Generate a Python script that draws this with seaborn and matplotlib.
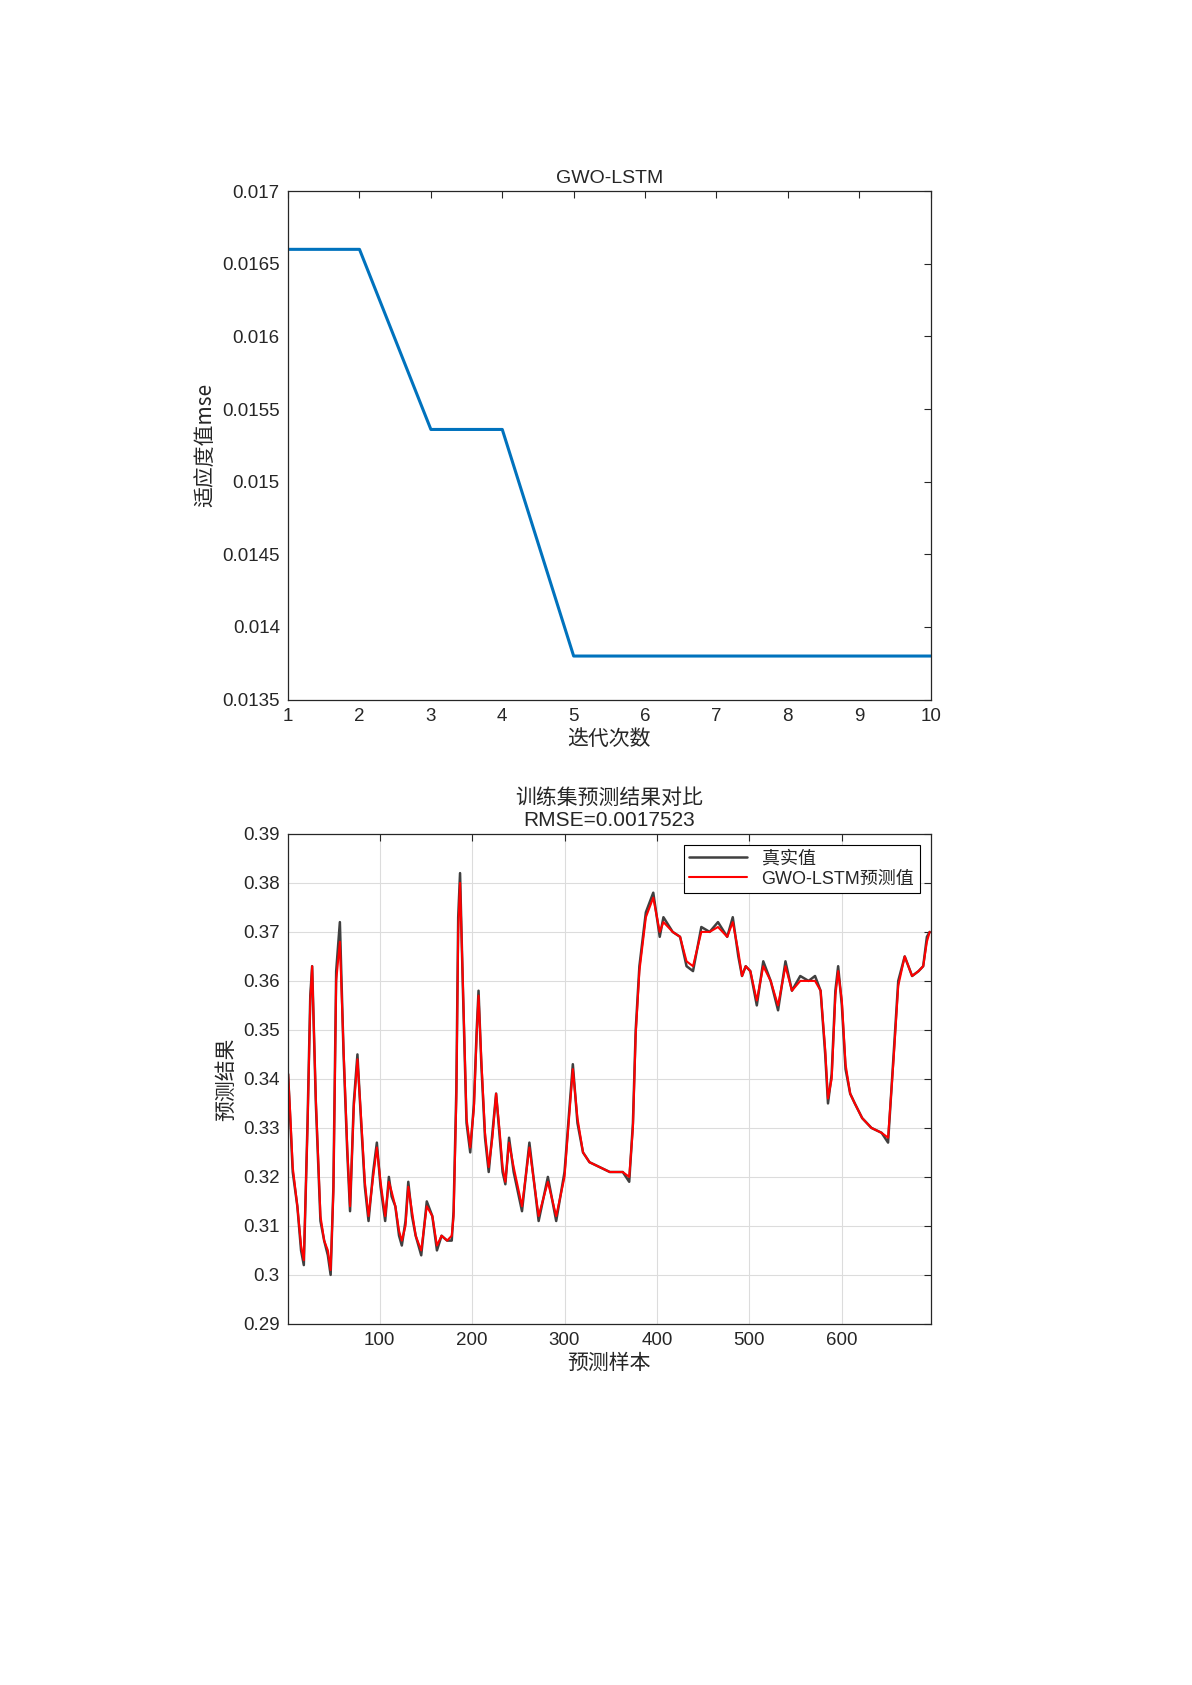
import numpy as np
import pandas as pd
import matplotlib
matplotlib.use("Agg")
import matplotlib.pyplot as plt
from matplotlib import font_manager
import seaborn as sns

# ---- data ----
iters = [1, 2, 3, 4, 5, 6, 7, 8, 9, 10]
fitness = [0.01660, 0.01660, 0.01536, 0.01536, 0.01380, 0.01380, 0.01380, 0.01380, 0.01380, 0.01380]

sample_x = [1, 3, 6, 11, 15, 18, 22, 25, 27, 31, 36, 40, 44, 47, 50, 53, 57, 61, 65, 68,
            72, 76, 80, 84, 88, 93, 97, 101, 106, 110, 113, 117, 121, 124, 128, 131, 135, 139, 145, 151,
            157, 162, 167, 173, 178, 180, 183, 185, 187, 190, 194, 198, 202, 205, 207, 210, 214, 218, 222, 226,
            230, 233, 236, 240, 245, 254, 262, 272, 282, 291, 300, 309, 314, 320, 327, 338, 349, 363, 370, 374,
            377, 381, 388, 396, 403, 407, 417, 425, 432, 439, 448, 457, 466, 476, 482, 488, 492, 496, 501, 508,
            515, 523, 531, 539, 546, 555, 564, 571, 577, 582, 585, 589, 593, 596, 600, 604, 609, 614, 622, 632,
            643, 650, 656, 661, 668, 676, 683, 688, 692, 695]
true_vals = [0.341, 0.333, 0.321, 0.314, 0.305, 0.302, 0.331, 0.357, 0.363, 0.335, 0.311, 0.307, 0.304, 0.300, 0.318, 0.362, 0.372, 0.345, 0.325, 0.313,
             0.335, 0.345, 0.331, 0.318, 0.311, 0.321, 0.327, 0.318, 0.311, 0.320, 0.316, 0.314, 0.308, 0.306, 0.311, 0.319, 0.312, 0.308, 0.304, 0.315,
             0.312, 0.305, 0.308, 0.307, 0.307, 0.313, 0.338, 0.373, 0.382, 0.359, 0.331, 0.325, 0.335, 0.350, 0.358, 0.343, 0.328, 0.321, 0.329, 0.337,
             0.328, 0.321, 0.3185, 0.328, 0.321, 0.313, 0.327, 0.311, 0.320, 0.311, 0.321, 0.343, 0.331, 0.325, 0.323, 0.322, 0.321, 0.321, 0.319, 0.331,
             0.350, 0.363, 0.374, 0.378, 0.369, 0.373, 0.370, 0.369, 0.363, 0.362, 0.371, 0.370, 0.372, 0.369, 0.373, 0.365, 0.361, 0.363, 0.362, 0.355,
             0.364, 0.360, 0.354, 0.364, 0.358, 0.361, 0.360, 0.361, 0.358, 0.345, 0.335, 0.341, 0.358, 0.363, 0.355, 0.342, 0.337, 0.335, 0.332, 0.330,
             0.329, 0.327, 0.345, 0.360, 0.365, 0.361, 0.362, 0.363, 0.369, 0.370]
pred_vals = [0.341, 0.334, 0.322, 0.314, 0.306, 0.303, 0.330, 0.356, 0.363, 0.336, 0.312, 0.307, 0.305, 0.301, 0.317, 0.360, 0.368, 0.346, 0.326, 0.314,
             0.334, 0.344, 0.332, 0.319, 0.312, 0.320, 0.326, 0.319, 0.312, 0.319, 0.317, 0.314, 0.309, 0.307, 0.310, 0.318, 0.313, 0.308, 0.305, 0.314,
             0.312, 0.306, 0.308, 0.307, 0.308, 0.312, 0.336, 0.370, 0.380, 0.360, 0.332, 0.326, 0.334, 0.349, 0.357, 0.344, 0.329, 0.322, 0.328, 0.337,
             0.329, 0.322, 0.319, 0.327, 0.322, 0.314, 0.326, 0.312, 0.319, 0.312, 0.320, 0.342, 0.332, 0.325, 0.323, 0.322, 0.321, 0.321, 0.320, 0.330,
             0.349, 0.362, 0.373, 0.377, 0.370, 0.372, 0.370, 0.369, 0.364, 0.363, 0.370, 0.370, 0.371, 0.369, 0.372, 0.366, 0.361, 0.363, 0.362, 0.356,
             0.363, 0.360, 0.355, 0.363, 0.358, 0.360, 0.360, 0.360, 0.358, 0.346, 0.336, 0.340, 0.357, 0.362, 0.356, 0.343, 0.337, 0.335, 0.332, 0.330,
             0.329, 0.328, 0.344, 0.359, 0.365, 0.361, 0.362, 0.363, 0.368, 0.370]

yticks_top = [0.0135, 0.014, 0.0145, 0.015, 0.0155, 0.016, 0.0165, 0.017]
ytick_labels_top = ["0.0135", "0.014", "0.0145", "0.015", "0.0155", "0.016", "0.0165", "0.017"]
yticks_bot = [0.29, 0.30, 0.31, 0.32, 0.33, 0.34, 0.35, 0.36, 0.37, 0.38, 0.39]
ytick_labels_bot = ["0.29", "0.3", "0.31", "0.32", "0.33", "0.34", "0.35", "0.36", "0.37", "0.38", "0.39"]
xticks_bot = [100, 200, 300, 400, 500, 600]

# ---- fonts ----
names = sorted({f.name for f in font_manager.fontManager.ttflist})
cjk = next((n for n in ["Noto Sans CJK SC", "Noto Sans CJK JP", "Noto Sans CJK TC", "Noto Sans CJK KR"] if n in names),
           next((n for n in names if "CJK" in n), "DejaVu Sans"))

sns.set_style("white")
plt.rcParams["font.family"] = ["Liberation Sans", cjk]
plt.rcParams["xtick.direction"] = "in"
plt.rcParams["ytick.direction"] = "in"

fig = plt.figure(figsize=(11.92, 16.85), dpi=100)
ax1 = fig.add_axes([0.2417, 0.5848, 0.539, 0.3017])
ax2 = fig.add_axes([0.2417, 0.2143, 0.539, 0.2908])

for ax in (ax1, ax2):
    for s in ax.spines.values():
        s.set_color("#262626")
        s.set_linewidth(0.9)
    ax.tick_params(labelsize=13.5, colors="#262626", length=5, width=0.8,
                   top=True, right=True, pad=6)

df1 = pd.DataFrame({"iter": iters, "fit": fitness})
sns.lineplot(data=df1, x="iter", y="fit", ax=ax1, color="#0072BD", linewidth=2.2)
ax1.set_xlim(1, 10)
ax1.set_ylim(0.0135, 0.017)
ax1.set_xticks(iters)
ax1.set_yticks(yticks_top)
ax1.set_yticklabels(ytick_labels_top)
ax1.set_title("GWO-LSTM", fontsize=14, pad=6)
ax1.set_xlabel("迭代次数", fontsize=15, family=cjk, color="#262626", labelpad=2)
ax1.set_ylabel("适应度值mse", fontsize=15, family=cjk, color="#262626")

df2 = pd.DataFrame({"x": sample_x, "true": true_vals, "pred": pred_vals})
sns.lineplot(data=df2, x="x", y="true", ax=ax2, color="#404040", linewidth=1.8,
             sort=False, label="真实值")
sns.lineplot(data=df2, x="x", y="pred", ax=ax2, color="#FF0000", linewidth=1.5,
             sort=False, label="GWO-LSTM预测值")
ax2.set_xlim(1, 696)
ax2.set_ylim(0.29, 0.39)
ax2.set_xticks(xticks_bot)
ax2.set_yticks(yticks_bot)
ax2.set_yticklabels(ytick_labels_bot)
ax2.grid(True, color="#DCDCDC", linewidth=0.8)
ax2.set_axisbelow(True)
ax2.set_title("训练集预测结果对比\nRMSE=0.0017523", fontsize=15, pad=6)
ax2.set_xlabel("预测样本", fontsize=15, family=cjk, color="#262626", labelpad=2)
ax2.set_ylabel("预测结果", fontsize=15, family=cjk, color="#262626")
leg = ax2.legend(loc="upper right", fontsize=13, frameon=True, fancybox=False,
                 edgecolor="black", framealpha=1, borderaxespad=0.6, handlelength=3.2,
                 borderpad=0.3, labelspacing=0.2)
leg.get_frame().set_linewidth(0.8)

fig.savefig("out.png", dpi=100, facecolor="white")
